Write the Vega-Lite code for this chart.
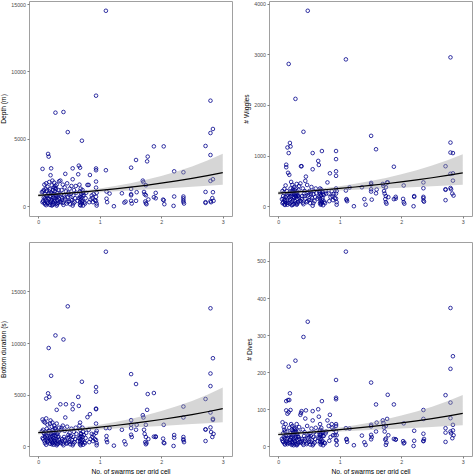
{
"$schema": "https://vega.github.io/schema/vega-lite/v6.json",
"padding": 0,
"background": "white",
"bounds": "flush",
"columns": 2,
"spacing": {"row": 26, "column": 37},
"config": {
  "font": "Liberation Sans",
  "view": {"stroke": "#a0a0a0", "strokeWidth": 1},
  "axis": {"grid": false, "domain": false, "labelFontSize": 5.3, "labelColor": "#4d4d4d", "titleFontSize": 6.7, "titleColor": "#000000", "titleFontWeight": "normal", "tickColor": "#7f7f7f", "tickSize": 2, "labelPadding": 1.5, "titlePadding": 4}
},
"datasets": {
"pts": [
{"x":0.06,"d":1050,"w":140,"b":1450,"n":20},
{"x":0.07,"d":2770,"w":300,"b":2600,"n":65},
{"x":0.07,"d":300,"w":60,"b":800,"n":15},
{"x":0.08,"d":400,"w":80,"b":700,"n":12},
{"x":0.08,"d":1100,"w":200,"b":1600,"n":35},
{"x":0.09,"d":650,"w":260,"b":2400,"n":52},
{"x":0.09,"d":1200,"w":150,"b":1300,"n":25},
{"x":0.10,"d":250,"w":40,"b":500,"n":8},
{"x":0.10,"d":1600,"w":340,"b":1200,"n":45},
{"x":0.11,"d":900,"w":120,"b":900,"n":22},
{"x":0.11,"d":150,"w":25,"b":300,"n":5},
{"x":0.11,"d":600,"w":90,"b":2300,"n":40},
{"x":0.12,"d":1300,"w":410,"b":1400,"n":60},
{"x":0.12,"d":500,"w":180,"b":1100,"n":28},
{"x":0.13,"d":1700,"w":820,"b":4620,"n":122},
{"x":0.13,"d":750,"w":770,"b":2700,"n":97},
{"x":0.13,"d":80,"w":60,"b":150,"n":10},
{"x":0.14,"d":1150,"w":300,"b":1700,"n":40},
{"x":0.14,"d":350,"w":110,"b":600,"n":15},
{"x":0.14,"d":800,"w":200,"b":1000,"n":20},
{"x":0.15,"d":600,"w":230,"b":800,"n":30},
{"x":0.15,"d":1450,"w":1160,"b":2100,"n":88},
{"x":0.15,"d":200,"w":30,"b":400,"n":6},
{"x":0.16,"d":3880,"w":660,"b":5130,"n":125},
{"x":0.16,"d":250,"w":70,"b":500,"n":10},
{"x":0.17,"d":3680,"w":2810,"b":9520,"n":215},
{"x":0.17,"d":950,"w":1050,"b":1500,"n":92},
{"x":0.18,"d":1800,"w":620,"b":4780,"n":125},
{"x":0.18,"d":550,"w":260,"b":1300,"n":50},
{"x":0.18,"d":1100,"w":180,"b":1500,"n":30},
{"x":0.19,"d":1250,"w":1250,"b":2200,"n":143},
{"x":0.19,"d":100,"w":50,"b":250,"n":8},
{"x":0.19,"d":750,"w":120,"b":800,"n":18},
{"x":0.20,"d":2300,"w":1180,"b":2500,"n":98},
{"x":0.20,"d":700,"w":350,"b":900,"n":35},
{"x":0.20,"d":300,"w":150,"b":600,"n":18},
{"x":0.21,"d":2810,"w":480,"b":6830,"n":60},
{"x":0.21,"d":1000,"w":200,"b":1200,"n":25},
{"x":0.21,"d":400,"w":250,"b":700,"n":22},
{"x":0.22,"d":1550,"w":300,"b":1900,"n":45},
{"x":0.22,"d":450,"w":90,"b":450,"n":12},
{"x":0.22,"d":50,"w":20,"b":200,"n":4},
{"x":0.23,"d":1900,"w":420,"b":2300,"n":55},
{"x":0.23,"d":850,"w":240,"b":1000,"n":30},
{"x":0.23,"d":100,"w":30,"b":300,"n":7},
{"x":0.24,"d":1200,"w":330,"b":1600,"n":42},
{"x":0.24,"d":300,"w":120,"b":350,"n":10},
{"x":0.24,"d":900,"w":280,"b":1250,"n":35},
{"x":0.25,"d":650,"w":180,"b":800,"n":20},
{"x":0.25,"d":1400,"w":280,"b":1400,"n":38},
{"x":0.25,"d":150,"w":40,"b":150,"n":3},
{"x":0.26,"d":1750,"w":380,"b":2000,"n":50},
{"x":0.26,"d":900,"w":250,"b":1100,"n":32},
{"x":0.26,"d":500,"w":160,"b":600,"n":16},
{"x":0.27,"d":400,"w":100,"b":500,"n":14},
{"x":0.27,"d":1100,"w":310,"b":1300,"n":38},
{"x":0.27,"d":1350,"w":230,"b":1700,"n":45},
{"x":0.28,"d":6940,"w":2120,"b":10740,"n":231},
{"x":0.28,"d":600,"w":200,"b":700,"n":22},
{"x":0.28,"d":1500,"w":350,"b":1750,"n":48},
{"x":0.29,"d":200,"w":60,"b":300,"n":6},
{"x":0.29,"d":1300,"w":270,"b":1500,"n":40},
{"x":0.29,"d":750,"w":190,"b":1000,"n":27},
{"x":0.30,"d":800,"w":230,"b":3530,"n":35},
{"x":0.30,"d":50,"w":30,"b":100,"n":3},
{"x":0.30,"d":1600,"w":440,"b":2200,"n":60},
{"x":0.31,"d":450,"w":150,"b":550,"n":18},
{"x":0.31,"d":1000,"w":290,"b":1200,"n":33},
{"x":0.31,"d":150,"w":50,"b":200,"n":5},
{"x":0.32,"d":700,"w":200,"b":900,"n":26},
{"x":0.32,"d":250,"w":80,"b":250,"n":8},
{"x":0.33,"d":1200,"w":320,"b":1400,"n":40},
{"x":0.33,"d":850,"w":210,"b":950,"n":25},
{"x":0.34,"d":550,"w":170,"b":650,"n":20},
{"x":0.34,"d":1850,"w":400,"b":1800,"n":52},
{"x":0.35,"d":350,"w":110,"b":400,"n":12},
{"x":0.36,"d":1900,"w":450,"b":4070,"n":85},
{"x":0.37,"d":900,"w":790,"b":1600,"n":90},
{"x":0.37,"d":300,"w":100,"b":300,"n":10},
{"x":0.38,"d":1200,"w":790,"b":1800,"n":95},
{"x":0.38,"d":450,"w":140,"b":500,"n":14},
{"x":0.39,"d":600,"w":200,"b":700,"n":20},
{"x":0.40,"d":1600,"w":350,"b":2000,"n":45},
{"x":0.40,"d":250,"w":70,"b":250,"n":8},
{"x":0.41,"d":6990,"w":1470,"b":10350,"n":295},
{"x":0.41,"d":100,"w":40,"b":100,"n":4},
{"x":0.42,"d":800,"w":250,"b":900,"n":28},
{"x":0.43,"d":1400,"w":300,"b":1500,"n":38},
{"x":0.43,"d":650,"w":200,"b":650,"n":20},
{"x":0.44,"d":2400,"w":500,"b":2790,"n":75},
{"x":0.44,"d":500,"w":150,"b":500,"n":15},
{"x":0.45,"d":1100,"w":585,"b":4070,"n":97},
{"x":0.46,"d":200,"w":80,"b":250,"n":6},
{"x":0.47,"d":1700,"w":420,"b":1900,"n":55},
{"x":0.47,"d":350,"w":100,"b":350,"n":10},
{"x":0.48,"d":5500,"w":3860,"b":13560,"n":336},
{"x":0.48,"d":700,"w":210,"b":800,"n":22},
{"x":0.49,"d":1000,"w":270,"b":1100,"n":30},
{"x":0.50,"d":350,"w":120,"b":400,"n":12},
{"x":0.50,"d":850,"w":230,"b":900,"n":25},
{"x":0.51,"d":1300,"w":300,"b":1300,"n":35},
{"x":0.52,"d":150,"w":60,"b":200,"n":5},
{"x":0.53,"d":900,"w":240,"b":1000,"n":28},
{"x":0.53,"d":500,"w":130,"b":450,"n":12},
{"x":0.54,"d":1500,"w":380,"b":1700,"n":48},
{"x":0.55,"d":450,"w":160,"b":600,"n":16},
{"x":0.56,"d":2810,"w":1050,"b":4070,"n":95},
{"x":0.56,"d":2000,"w":730,"b":3590,"n":70},
{"x":0.56,"d":50,"w":10,"b":100,"n":3},
{"x":0.57,"d":800,"w":240,"b":900,"n":25},
{"x":0.57,"d":200,"w":60,"b":250,"n":6},
{"x":0.58,"d":1200,"w":300,"b":1400,"n":38},
{"x":0.59,"d":300,"w":100,"b":400,"n":10},
{"x":0.60,"d":600,"w":180,"b":700,"n":20},
{"x":0.61,"d":1500,"w":350,"b":1800,"n":50},
{"x":0.62,"d":1000,"w":260,"b":1200,"n":32},
{"x":0.64,"d":400,"w":150,"b":500,"n":14},
{"x":0.65,"d":2370,"w":895,"b":4780,"n":100},
{"x":0.66,"d":3010,"w":815,"b":3910,"n":80},
{"x":0.66,"d":600,"w":180,"b":800,"n":22},
{"x":0.67,"d":1600,"w":280,"b":2000,"n":40},
{"x":0.68,"d":2860,"w":350,"b":2300,"n":60},
{"x":0.68,"d":1100,"w":300,"b":1600,"n":45},
{"x":0.68,"d":700,"w":250,"b":900,"n":32},
{"x":0.68,"d":300,"w":150,"b":500,"n":25},
{"x":0.68,"d":100,"w":60,"b":200,"n":12},
{"x":0.69,"d":1300,"w":200,"b":1200,"n":30},
{"x":0.69,"d":500,"w":100,"b":700,"n":20},
{"x":0.69,"d":50,"w":30,"b":100,"n":5},
{"x":0.70,"d":900,"w":330,"b":1000,"n":50},
{"x":0.70,"d":200,"w":50,"b":300,"n":8},
{"x":0.70,"d":650,"w":220,"b":1200,"n":35},
{"x":0.71,"d":4860,"w":1090,"b":6250,"n":122},
{"x":0.71,"d":350,"w":80,"b":450,"n":12},
{"x":0.72,"d":1200,"w":280,"b":1800,"n":40},
{"x":0.72,"d":400,"w":120,"b":600,"n":15},
{"x":0.72,"d":800,"w":160,"b":900,"n":28},
{"x":0.73,"d":50,"w":20,"b":150,"n":3},
{"x":0.73,"d":1000,"w":240,"b":1400,"n":38},
{"x":0.74,"d":800,"w":220,"b":1100,"n":28},
{"x":0.75,"d":300,"w":90,"b":400,"n":10},
{"x":0.76,"d":200,"w":60,"b":300,"n":8},
{"x":0.77,"d":600,"w":300,"b":800,"n":35},
{"x":0.78,"d":1000,"w":250,"b":1300,"n":40},
{"x":0.80,"d":1580,"w":470,"b":2820,"n":70},
{"x":0.82,"d":1580,"w":250,"b":1600,"n":55},
{"x":0.83,"d":300,"w":100,"b":400,"n":15},
{"x":0.84,"d":2320,"w":650,"b":3110,"n":85},
{"x":0.85,"d":500,"w":180,"b":700,"n":25},
{"x":0.87,"d":800,"w":300,"b":1200,"n":60},
{"x":0.88,"d":600,"w":200,"b":900,"n":50},
{"x":0.89,"d":300,"w":120,"b":500,"n":30},
{"x":0.90,"d":900,"w":240,"b":1100,"n":45},
{"x":0.92,"d":450,"w":160,"b":700,"n":30},
{"x":0.94,"d":8200,"w":1090,"b":5740,"n":179},
{"x":0.94,"d":2800,"w":930,"b":5290,"n":131},
{"x":0.94,"d":2670,"w":690,"b":3650,"n":127},
{"x":0.94,"d":1830,"w":600,"b":3590,"n":60},
{"x":0.94,"d":1380,"w":350,"b":2200,"n":55},
{"x":0.94,"d":700,"w":250,"b":1300,"n":40},
{"x":0.94,"d":400,"w":150,"b":600,"n":17},
{"x":0.95,"d":200,"w":80,"b":300,"n":15},
{"x":0.95,"d":50,"w":30,"b":100,"n":4},
{"x":0.95,"d":1000,"w":300,"b":1500,"n":30},
{"x":1.10,"d":14500,"w":2900,"b":18850,"n":525},
{"x":1.10,"d":2670,"w":310,"b":1760,"n":49},
{"x":1.11,"d":1090,"w":140,"b":990,"n":20},
{"x":1.11,"d":560,"w":125,"b":610,"n":18},
{"x":1.12,"d":300,"w":100,"b":400,"n":12},
{"x":1.16,"d":940,"w":370,"b":1760,"n":48},
{"x":1.23,"d":0,"w":0,"b":60,"n":3},
{"x":1.36,"d":960,"w":375,"b":1600,"n":29},
{"x":1.40,"d":270,"w":140,"b":480,"n":11},
{"x":1.42,"d":345,"w":30,"b":190,"n":4},
{"x":1.51,"d":2860,"w":1390,"b":6990,"n":172},
{"x":1.51,"d":1280,"w":460,"b":2530,"n":58},
{"x":1.51,"d":890,"w":430,"b":2110,"n":54},
{"x":1.51,"d":810,"w":335,"b":1760,"n":31},
{"x":1.51,"d":400,"w":290,"b":1120,"n":19},
{"x":1.52,"d":200,"w":130,"b":900,"n":25},
{"x":1.59,"d":3430,"w":1125,"b":6030,"n":113},
{"x":1.60,"d":1040,"w":330,"b":2080,"n":64},
{"x":1.59,"d":400,"w":255,"b":1600,"n":40},
{"x":1.78,"d":3680,"w":470,"b":5060,"n":139},
{"x":1.77,"d":3330,"w":470,"b":3530,"n":74},
{"x":1.70,"d":1900,"w":440,"b":3010,"n":70},
{"x":1.71,"d":1780,"w":400,"b":2790,"n":63},
{"x":1.75,"d":1560,"w":375,"b":2080,"n":55},
{"x":1.72,"d":1060,"w":300,"b":1600,"n":51},
{"x":1.73,"d":890,"w":250,"b":1200,"n":40},
{"x":1.75,"d":815,"w":200,"b":900,"n":21},
{"x":1.74,"d":350,"w":140,"b":400,"n":18},
{"x":1.75,"d":220,"w":80,"b":200,"n":4},
{"x":1.76,"d":150,"w":50,"b":300,"n":10},
{"x":1.79,"d":500,"w":180,"b":700,"n":30},
{"x":1.88,"d":4440,"w":780,"b":5160,"n":113},
{"x":1.88,"d":670,"w":140,"b":930,"n":20},
{"x":1.91,"d":990,"w":185,"b":900,"n":19},
{"x":1.91,"d":590,"w":150,"b":950,"n":18},
{"x":2.04,"d":4440,"w":410,"b":2080,"n":62},
{"x":2.03,"d":490,"w":145,"b":740,"n":14},
{"x":2.04,"d":440,"w":80,"b":350,"n":8},
{"x":2.05,"d":150,"w":50,"b":300,"n":10},
{"x":2.21,"d":2590,"w":200,"b":1090,"n":42},
{"x":2.21,"d":720,"w":185,"b":830,"n":15},
{"x":2.20,"d":25,"w":0,"b":30,"n":1},
{"x":2.36,"d":2520,"w":470,"b":3850,"n":98},
{"x":2.36,"d":720,"w":355,"b":2790,"n":74},
{"x":2.36,"d":590,"w":185,"b":900,"n":34},
{"x":2.36,"d":440,"w":160,"b":670,"n":15},
{"x":2.36,"d":320,"w":110,"b":580,"n":14},
{"x":2.37,"d":200,"w":90,"b":400,"n":20},
{"x":2.72,"d":4470,"w":790,"b":4580,"n":138},
{"x":2.72,"d":1060,"w":335,"b":1630,"n":49},
{"x":2.72,"d":300,"w":325,"b":1630,"n":37},
{"x":2.72,"d":250,"w":120,"b":510,"n":12},
{"x":2.80,"d":7830,"w":2940,"b":13370,"n":373},
{"x":2.80,"d":5430,"w":1257,"b":7050,"n":209},
{"x":2.80,"d":3800,"w":1060,"b":5830,"n":118},
{"x":2.80,"d":1880,"w":640,"b":3270,"n":76},
{"x":2.80,"d":370,"w":360,"b":1830,"n":40},
{"x":2.81,"d":300,"w":335,"b":1380,"n":35},
{"x":2.84,"d":5730,"w":1050,"b":8530,"n":243},
{"x":2.84,"d":2000,"w":650,"b":2660,"n":58},
{"x":2.84,"d":1040,"w":505,"b":2560,"n":43},
{"x":2.83,"d":600,"w":250,"b":900,"n":22},
{"x":2.85,"d":400,"w":210,"b":1200,"n":30}
],
"fit": [
{"x":0.00,"df":800,"dlo":690,"dhi":928,"wf":257,"wlo":222,"whi":298,"bf":1314,"blo":1133,"bhi":1524,"nf":32.0,"nlo":27.6,"nhi":37.1},
{"x":0.25,"df":880,"dlo":782,"dhi":990,"wf":278,"wlo":247,"whi":313,"bf":1430,"blo":1271,"bhi":1609,"nf":34.8,"nlo":30.9,"nhi":39.2},
{"x":0.50,"df":966,"dlo":873,"dhi":1068,"wf":300,"wlo":271,"whi":332,"bf":1557,"blo":1408,"bhi":1722,"nf":37.9,"nlo":34.3,"nhi":41.9},
{"x":0.75,"df":1062,"dlo":960,"dhi":1175,"wf":325,"wlo":294,"whi":359,"bf":1695,"blo":1533,"bhi":1875,"nf":41.3,"nlo":37.4,"nhi":45.9},
{"x":1.00,"df":1170,"dlo":1034,"dhi":1323,"wf":351,"wlo":310,"whi":397,"bf":1848,"blo":1634,"bhi":2090,"nf":45.0,"nlo":39.8,"nhi":50.9},
{"x":1.25,"df":1286,"dlo":1103,"dhi":1500,"wf":380,"wlo":326,"whi":443,"bf":2011,"blo":1725,"bhi":2345,"nf":49.0,"nlo":42.0,"nhi":57.1},
{"x":1.50,"df":1414,"dlo":1169,"dhi":1711,"wf":411,"wlo":340,"whi":497,"bf":2190,"blo":1810,"bhi":2650,"nf":53.3,"nlo":44.0,"nhi":64.5},
{"x":1.75,"df":1553,"dlo":1233,"dhi":1957,"wf":444,"wlo":352,"whi":559,"bf":2384,"blo":1892,"bhi":3004,"nf":58.1,"nlo":46.1,"nhi":73.2},
{"x":2.00,"df":1708,"dlo":1301,"dhi":2243,"wf":481,"wlo":366,"whi":632,"bf":2595,"blo":1976,"bhi":3407,"nf":63.2,"nlo":48.1,"nhi":83.0},
{"x":2.25,"df":1877,"dlo":1370,"dhi":2572,"wf":520,"wlo":380,"whi":712,"bf":2825,"blo":2062,"bhi":3870,"nf":68.8,"nlo":50.2,"nhi":94.3},
{"x":2.50,"df":2064,"dlo":1443,"dhi":2951,"wf":562,"wlo":393,"whi":804,"bf":3075,"blo":2150,"bhi":4397,"nf":74.9,"nlo":52.4,"nhi":107.1},
{"x":2.75,"df":2268,"dlo":1519,"dhi":3386,"wf":608,"wlo":407,"whi":908,"bf":3348,"blo":2243,"bhi":4999,"nf":81.6,"nlo":54.7,"nhi":121.8},
{"x":3.00,"df":2494,"dlo":1599,"dhi":3891,"wf":658,"wlo":422,"whi":1026,"bf":3644,"blo":2336,"bhi":5685,"nf":88.8,"nlo":56.9,"nhi":138.5}
]
},
"concat": [
{"width":203,"height":215,"layer":[
 {"data":{"name":"pts"},"mark":{"type":"point","shape":"circle","filled":false,"stroke":"#00008b","size":13,"strokeWidth":0.8,"opacity":1},
  "encoding":{"x":{"field":"x","type":"quantitative","scale":{"domain":[-0.15,3.15],"nice":false,"zero":false},"axis":{"values":[0,1,2,3],"format":"d","title":null}},
  "y":{"field":"d","type":"quantitative","title":"Depth (m)","scale":{"domain":[-725,15225],"nice":false,"zero":false},"axis":{"values":[0,5000,10000,15000],"format":"d"}}}},
 {"data":{"name":"fit"},"mark":{"type":"area","color":"#999999","opacity":0.4},
  "encoding":{"x":{"field":"x","type":"quantitative","title":null},"y":{"field":"dlo","type":"quantitative","title":"Depth (m)"},"y2":{"field":"dhi"}}},
 {"data":{"name":"fit"},"mark":{"type":"line","color":"#000000","strokeWidth":1.2},
  "encoding":{"x":{"field":"x","type":"quantitative","title":null},"y":{"field":"df","type":"quantitative","title":"Depth (m)"}}}
]},
{"width":203,"height":215,"layer":[
 {"data":{"name":"pts"},"mark":{"type":"point","shape":"circle","filled":false,"stroke":"#00008b","size":13,"strokeWidth":0.8,"opacity":1},
  "encoding":{"x":{"field":"x","type":"quantitative","scale":{"domain":[-0.15,3.15],"nice":false,"zero":false},"axis":{"values":[0,1,2,3],"format":"d","title":null}},
  "y":{"field":"w","type":"quantitative","title":"# Wiggles","scale":{"domain":[-193,4053],"nice":false,"zero":false},"axis":{"values":[0,1000,2000,3000,4000],"format":"d"}}}},
 {"data":{"name":"fit"},"mark":{"type":"area","color":"#999999","opacity":0.4},
  "encoding":{"x":{"field":"x","type":"quantitative","title":null},"y":{"field":"wlo","type":"quantitative","title":"# Wiggles"},"y2":{"field":"whi"}}},
 {"data":{"name":"fit"},"mark":{"type":"line","color":"#000000","strokeWidth":1.2},
  "encoding":{"x":{"field":"x","type":"quantitative","title":null},"y":{"field":"wf","type":"quantitative","title":"# Wiggles"}}}
]},
{"width":203,"height":214,"layer":[
 {"data":{"name":"pts"},"mark":{"type":"point","shape":"circle","filled":false,"stroke":"#00008b","size":13,"strokeWidth":0.8,"opacity":1},
  "encoding":{"x":{"field":"x","type":"quantitative","title":"No. of swarms per grid cell","scale":{"domain":[-0.15,3.15],"nice":false,"zero":false},"axis":{"values":[0,1,2,3],"format":"d"}},
  "y":{"field":"b","type":"quantitative","title":"Bottom duration (s)","scale":{"domain":[-942,19792],"nice":false,"zero":false},"axis":{"values":[0,5000,10000,15000],"format":"d"}}}},
 {"data":{"name":"fit"},"mark":{"type":"area","color":"#999999","opacity":0.4},
  "encoding":{"x":{"field":"x","type":"quantitative","title":"No. of swarms per grid cell"},"y":{"field":"blo","type":"quantitative","title":"Bottom duration (s)"},"y2":{"field":"bhi"}}},
 {"data":{"name":"fit"},"mark":{"type":"line","color":"#000000","strokeWidth":1.2},
  "encoding":{"x":{"field":"x","type":"quantitative","title":"No. of swarms per grid cell"},"y":{"field":"bf","type":"quantitative","title":"Bottom duration (s)"}}}
]},
{"width":203,"height":214,"layer":[
 {"data":{"name":"pts"},"mark":{"type":"point","shape":"circle","filled":false,"stroke":"#00008b","size":13,"strokeWidth":0.8,"opacity":1},
  "encoding":{"x":{"field":"x","type":"quantitative","title":"No. of swarms per grid cell","scale":{"domain":[-0.15,3.15],"nice":false,"zero":false},"axis":{"values":[0,1,2,3],"format":"d"}},
  "y":{"field":"n","type":"quantitative","title":"# Dives","scale":{"domain":[-26,551],"nice":false,"zero":false},"axis":{"values":[0,100,200,300,400,500],"format":"d"}}}},
 {"data":{"name":"fit"},"mark":{"type":"area","color":"#999999","opacity":0.4},
  "encoding":{"x":{"field":"x","type":"quantitative","title":"No. of swarms per grid cell"},"y":{"field":"nlo","type":"quantitative","title":"# Dives"},"y2":{"field":"nhi"}}},
 {"data":{"name":"fit"},"mark":{"type":"line","color":"#000000","strokeWidth":1.2},
  "encoding":{"x":{"field":"x","type":"quantitative","title":"No. of swarms per grid cell"},"y":{"field":"nf","type":"quantitative","title":"# Dives"}}}
]}
]
}
